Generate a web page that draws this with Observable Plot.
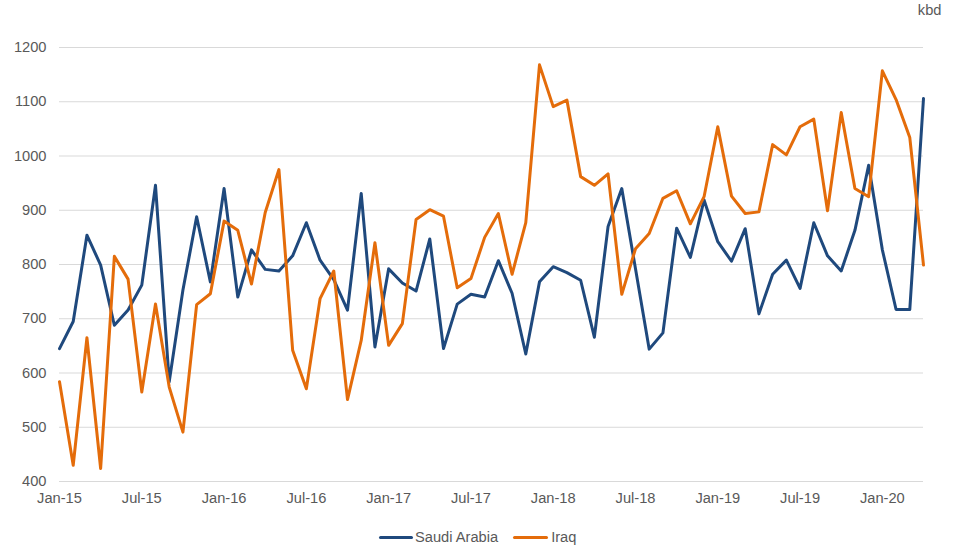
<!DOCTYPE html>
<html>
<head>
<meta charset="utf-8">
<script src="https://cdn.jsdelivr.net/npm/d3@7"></script>
<script src="https://cdn.jsdelivr.net/npm/@observablehq/plot@0.6"></script>
<style>
  body { margin: 0; background: #fff; font-family: "Liberation Sans", Arial, sans-serif; }
  #wrap { width: 959px; height: 550px; position: relative; }
  #legend { position: absolute; left: 379px; top: 527px; height: 20px; display: flex; align-items: center; font-size: 14.67px; color: #595959; }
  .sw { display: inline-block; height: 3px; border-radius: 1.5px; }
</style>
</head>
<body>
<div id="wrap">
  <div id="chart"></div>
  <div id="legend">
    <span class="sw" style="width:34px;background:#1f497d;margin-right:2px"></span><span>Saudi Arabia</span>
    <span class="sw" style="width:35px;background:#e46c0a;margin-left:15px;margin-right:3px"></span><span>Iraq</span>
  </div>
</div>
<script>
const months = d3.utcMonth.range(new Date(Date.UTC(2015, 0, 1)), new Date(Date.UTC(2020, 4, 1))).map(d3.utcFormat("%b-%y"));
const tickLabels = ["Jan-15","Jul-15","Jan-16","Jul-16","Jan-17","Jul-17","Jan-18","Jul-18","Jan-19","Jul-19","Jan-20"];
const yTicks = [400, 500, 600, 700, 800, 900, 1000, 1100, 1200];

const saudi = [645,695,854,799,688,716,762,946,584,753,888,768,940,740,827,791,788,816,877,808,772,716,931,648,792,766,751,847,645,727,745,740,807,747,635,768,796,785,771,666,870,940,792,644,674,867,813,919,842,806,866,709,782,808,756,877,816,788,863,983,827,717,717,1106];
const iraq = [584,430,665,424,815,773,565,727,574,491,726,746,880,863,764,896,975,642,571,737,788,551,660,840,651,691,883,901,889,757,774,850,894,782,877,1168,1091,1103,962,946,967,745,829,857,922,936,875,925,1054,926,894,897,1021,1002,1054,1068,899,1080,940,925,1157,1104,1034,799];

const saudiData = months.map((m, i) => ({month: m, value: saudi[i]}));
const iraqData = months.map((m, i) => ({month: m, value: iraq[i]}));

const chart = Plot.plot({
  width: 959,
  height: 515,
  marginTop: 47,
  marginBottom: 34,
  marginLeft: 59,
  marginRight: 36,
  style: {fontFamily: "'Liberation Sans', Arial, sans-serif", fontSize: "14.67px", color: "#595959", background: "#fff", overflow: "visible"},
  x: {type: "point", domain: months, padding: 0},
  y: {domain: [400, 1200]},
  marks: [
    Plot.ruleY(yTicks, {stroke: "#d9d9d9", strokeWidth: 1}),
    Plot.axisY({ticks: yTicks, tickFormat: d => String(d), tickSize: 0, tickPadding: 13, label: null, fill: "#595959"}),
    Plot.axisX({ticks: tickLabels, tickSize: 0, tickPadding: 11, label: null, fill: "#595959"}),
    Plot.line(saudiData, {x: "month", y: "value", stroke: "#1f497d", strokeWidth: 3, strokeLinejoin: "round", strokeLinecap: "round"}),
    Plot.line(iraqData, {x: "month", y: "value", stroke: "#e46c0a", strokeWidth: 3, strokeLinejoin: "round", strokeLinecap: "round"}),
    Plot.text(["kbd"], {frameAnchor: "top-right", textAnchor: "end", lineAnchor: "middle", dx: 18, dy: -37, fill: "#595959"})
  ]
});
document.getElementById("chart").appendChild(chart);
</script>
</body>
</html>
